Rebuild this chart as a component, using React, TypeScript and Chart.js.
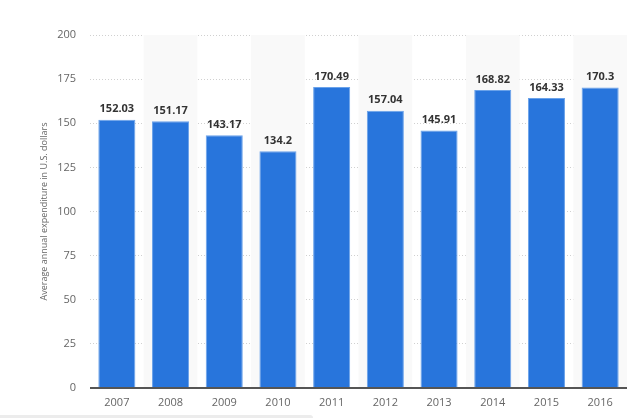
import { useEffect, useRef } from "react";
import { Chart, registerables } from "chart.js";

Chart.register(...registerables);

const years = ["2007", "2008", "2009", "2010", "2011", "2012", "2013", "2014", "2015", "2016"];
const spending = [152.03, 151.17, 143.17, 134.2, 170.49, 157.04, 145.91, 168.82, 164.33, 170.3];
const yTicks = [0, 25, 50, 75, 100, 125, 150, 175, 200];

const FONT = "'Open Sans', 'DejaVu Sans', sans-serif";

// striped background behind every second year
const bandsPlugin = {
  id: "bands",
  beforeDatasetsDraw(chart: any) {
    const { ctx, chartArea, scales } = chart;
    const x = scales.x;
    const step = x.width / years.length;
    ctx.save();
    ctx.fillStyle = "#f9f9f9";
    years.forEach((_, i) => {
      if (i % 2 === 1) {
        const cx = x.getPixelForValue(i);
        ctx.fillRect(cx - step / 2, chartArea.top, step, chartArea.bottom - chartArea.top);
      }
    });
    ctx.restore();
  },
};

// value labels above bars + baseline on top of the bars
const valueLabels = {
  id: "valueLabels",
  afterDatasetsDraw(chart: any) {
    const { ctx, chartArea } = chart;
    const meta = chart.getDatasetMeta(0);
    ctx.save();
    ctx.strokeStyle = "#555555";
    ctx.lineWidth = 2;
    ctx.beginPath();
    ctx.moveTo(chartArea.left, chartArea.bottom);
    ctx.lineTo(chartArea.right, chartArea.bottom);
    ctx.stroke();

    ctx.font = "bold 11px " + FONT;
    ctx.fillStyle = "#333333";
    ctx.textAlign = "center";
    ctx.textBaseline = "bottom";
    meta.data.forEach((bar: any, i: number) => {
      ctx.fillText(String(spending[i]), bar.x, bar.y - 5);
    });
    ctx.restore();
  },
};

export default function App() {
  const canvasRef = useRef<HTMLCanvasElement>(null);
  const chartRef = useRef<Chart | null>(null);

  useEffect(() => {
    if (!canvasRef.current) return;
    if (chartRef.current) chartRef.current.destroy();

    chartRef.current = new Chart(canvasRef.current, {
      type: "bar",
      data: {
        labels: years,
        datasets: [
          {
            data: spending,
            backgroundColor: "#2875dc",
            borderColor: "#6aa2ea",
            borderWidth: 1,
            borderSkipped: "bottom",
            categoryPercentage: 1,
            barPercentage: 0.69,
          },
        ],
      },
      options: {
        animation: false,
        responsive: true,
        maintainAspectRatio: false,
        layout: { padding: { top: 35, right: 13, bottom: 0, left: 0 } },
        plugins: {
          legend: { display: false },
          tooltip: { enabled: false },
        },
        scales: {
          x: {
            grid: { display: false, drawTicks: false },
            border: { display: false },
            ticks: {
              color: "#666666",
              font: { family: FONT, size: 11 },
              padding: 8,
            },
            afterFit(axis: any) {
              axis.height = 30;
            },
          },
          y: {
            min: 0,
            max: 200,
            afterBuildTicks(axis: any) {
              axis.ticks = yTicks.map((v) => ({ value: v }));
            },
            grid: { color: "#d0d0d0", drawTicks: false },
            border: { display: false, dash: [1, 2] },
            ticks: {
              color: "#666666",
              font: { family: FONT, size: 11 },
              padding: 14,
            },
            title: {
              display: true,
              text: "Average annual expenditure in U.S. dollars",
              color: "#666666",
              font: { family: FONT, size: 9 },
              padding: { top: 39, bottom: 0 },
            },
            afterFit(axis: any) {
              axis.width = 90;
            },
          },
        },
      },
      plugins: [bandsPlugin, valueLabels],
    });

    return () => {
      chartRef.current?.destroy();
      chartRef.current = null;
    };
  }, []);

  return (
    <div style={{ position: "fixed", left: 0, top: 0, width: 640, height: 418, background: "#fff" }}>
      <canvas ref={canvasRef} />
      <div
        style={{
          position: "absolute",
          left: 0,
          top: 415,
          width: 313,
          height: 3,
          background: "#ececec",
          borderTopRightRadius: 3,
        }}
      />
    </div>
  );
}
